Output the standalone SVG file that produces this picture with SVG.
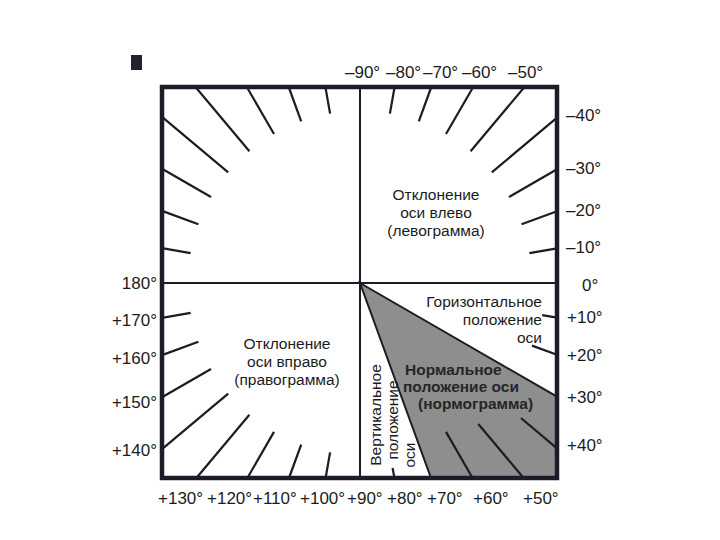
<svg xmlns="http://www.w3.org/2000/svg" width="720" height="540" viewBox="0 0 720 540">
<style>
.frame{fill:none;stroke:#1c1c26;stroke-width:4.5}
.axis{stroke:#1c1c26;stroke-width:2;fill:none}
.tick{stroke:#1c1c26;stroke-width:2.2}
.lbl{font-family:"Liberation Sans",Arial,sans-serif;font-size:17px;fill:#1c1c1c}
.zone{font-family:"Liberation Sans",Arial,sans-serif;font-size:15.5px;fill:#1c1c1c;text-anchor:middle}
.zb{font-family:"Liberation Sans",Arial,sans-serif;font-size:15.5px;font-weight:bold;fill:#262626}
</style>
<rect width="720" height="540" fill="#ffffff"/>
<rect id="marker-square" x="131" y="55" width="11" height="15" fill="#22222c"/>

<g id="normal-zone">
<polygon points="360,283 557,396.7 557,478 431,478" fill="#8e8e8e" stroke="#1c1c26" stroke-width="2"/>
</g>

<g id="connectors">
<line class="axis" x1="162" y1="283" x2="557" y2="283"/>
<line class="axis" x1="360" y1="87" x2="360" y2="478"/>
<!-- top-left -->
<line class="tick" x1="325.4" y1="87" x2="330.1" y2="113.6"/>
<line class="tick" x1="288.7" y1="87" x2="301.2" y2="121.4"/>
<line class="tick" x1="246.8" y1="87" x2="274" y2="134"/>
<line class="tick" x1="195.5" y1="87" x2="249.4" y2="151.2"/>
<line class="tick" x1="162" y1="116.8" x2="228.2" y2="172.4"/>
<line class="tick" x1="162" y1="168.7" x2="211" y2="197"/>
<line class="tick" x1="162" y1="210.9" x2="198.4" y2="224.2"/>
<line class="tick" x1="162" y1="248.1" x2="190.6" y2="253.1"/>
<!-- top-right -->
<line class="tick" x1="394.6" y1="87" x2="389.9" y2="113.6"/>
<line class="tick" x1="431.3" y1="87" x2="418.8" y2="121.4"/>
<line class="tick" x1="473.2" y1="87" x2="446" y2="134"/>
<line class="tick" x1="524.5" y1="87" x2="470.6" y2="151.2"/>
<line class="tick" x1="557" y1="117.7" x2="491.8" y2="172.4"/>
<line class="tick" x1="557" y1="169.3" x2="509" y2="197"/>
<line class="tick" x1="557" y1="211.3" x2="521.6" y2="224.2"/>
<line class="tick" x1="557" y1="248.3" x2="529.4" y2="253.1"/>
<!-- bottom-left -->
<line class="tick" x1="162" y1="317.9" x2="190.6" y2="312.9"/>
<line class="tick" x1="162" y1="355.1" x2="198.4" y2="341.8"/>
<line class="tick" x1="162" y1="397.3" x2="211" y2="369"/>
<line class="tick" x1="162" y1="449.2" x2="228.2" y2="393.6"/>
<line class="tick" x1="196.4" y1="478" x2="249.4" y2="414.8"/>
<line class="tick" x1="247.4" y1="478" x2="274" y2="431.9"/>
<line class="tick" x1="289" y1="478" x2="301.2" y2="444.6"/>
<line class="tick" x1="325.6" y1="478" x2="330.1" y2="452.4"/>
<!-- bottom-right -->
<line class="tick" x1="394.4" y1="478" x2="392.6" y2="468"/>
<line class="tick" x1="472.6" y1="478" x2="446" y2="431.9"/>
<line class="tick" x1="523.6" y1="478" x2="478.3" y2="424"/>
<line class="tick" x1="557" y1="448.3" x2="520.9" y2="418"/>
<line class="tick" x1="557" y1="354.7" x2="532" y2="345.6"/>
<line class="tick" x1="557" y1="317.7" x2="542.2" y2="315.1"/>
</g>

<g id="frame">
<rect class="frame" x="162" y="87" width="395" height="391"/>
</g>

<g id="labels-top" class="lbl">
<text x="345" y="78">–90°</text>
<text x="386" y="78">–80°</text>
<text x="423" y="78">–70°</text>
<text x="462" y="78">–60°</text>
<text x="508" y="78">–50°</text>
</g>

<g id="labels-right" class="lbl">
<text x="566" y="121">–40°</text>
<text x="566" y="174">–30°</text>
<text x="566" y="216">–20°</text>
<text x="566" y="253">–10°</text>
<text x="582" y="291">0°</text>
<text x="567" y="323">+10°</text>
<text x="567" y="361">+20°</text>
<text x="567" y="403">+30°</text>
<text x="567" y="451">+40°</text>
</g>

<g id="labels-left" class="lbl" text-anchor="end">
<text x="157" y="289">180°</text>
<text x="157" y="326">+170°</text>
<text x="157" y="364">+160°</text>
<text x="157" y="408">+150°</text>
<text x="157" y="456">+140°</text>
</g>

<g id="labels-bottom" class="lbl">
<text x="158" y="504">+130°</text>
<text x="207" y="504">+120°</text>
<text x="253" y="504">+110°</text>
<text x="300" y="504">+100°</text>
<text x="347" y="504">+90°</text>
<text x="387" y="504">+80°</text>
<text x="427" y="504">+70°</text>
<text x="473" y="504">+60°</text>
<text x="523" y="504">+50°</text>
</g>

<g id="zone-left-deviation" class="zone">
<text x="436" y="200">Отклонение</text>
<text x="436" y="218">оси влево</text>
<text x="436" y="236">(левограмма)</text>
</g>

<g id="zone-right-deviation" class="zone">
<text x="287" y="349">Отклонение</text>
<text x="287" y="367">оси вправо</text>
<text x="287" y="385">(правограмма)</text>
</g>

<g id="zone-horizontal" class="zone" text-anchor="end" style="text-anchor:end">
<text x="542" y="307">Горизонтальное</text>
<text x="542" y="325">положение</text>
<text x="542" y="343">оси</text>
</g>

<g id="zone-normal" class="zb">
<text x="405" y="375">Нормальное</text>
<text x="403" y="392">положение оси</text>
<text x="418" y="409">(нормограмма)</text>
</g>

<g id="zone-vertical" class="zone">
<text transform="translate(381,415) rotate(-90)">Вертикальное</text>
<text transform="translate(398,420) rotate(-90)">положение</text>
<text transform="translate(415,455) rotate(-90)">оси</text>
</g>
</svg>
